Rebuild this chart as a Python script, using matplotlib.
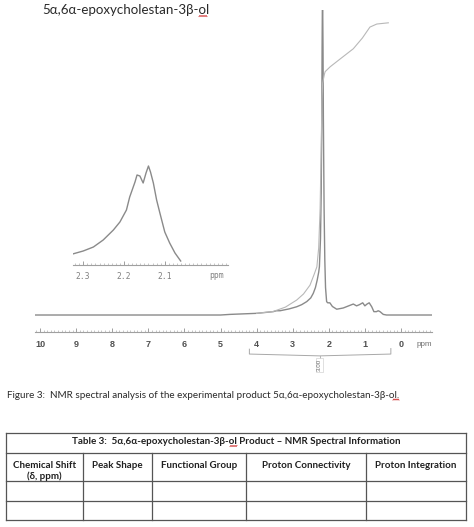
import numpy as np
import matplotlib
matplotlib.use("Agg")
import matplotlib.pyplot as plt
from matplotlib.ticker import MultipleLocator

# ---- 1H NMR trace (chemical shift in ppm, relative intensity, tallest peak = 100)
spec_ppm = [10.14, 5.0, 4.74, 4.0, 3.54, 3.45, 3.35, 3.1, 2.89, 2.75, 2.61, 2.50,
            2.43, 2.37, 2.32, 2.28, 2.26, 2.23, 2.21, 2.195, 2.185, 2.178, 2.168,
            2.16, 2.15, 2.13, 2.11, 2.09, 2.06, 2.03, 1.97, 1.90, 1.78, 1.60, 1.45,
            1.32, 1.23, 1.15, 1.06, 1.00, 0.94, 0.88, 0.81, 0.75, 0.68, 0.63, 0.58,
            0.49, 0.40, -0.86]
spec_int = [0, 0, 0.2, 0.55, 1.1, 1.4, 1.4, 2.0, 2.7, 3.4, 4.4, 5.6,
            7.1, 9.0, 11.5, 14.0, 15.8, 25, 40, 62, 88, 100, 100,
            88, 65, 35, 18, 9, 4.4, 4.0, 4.0, 2.8, 1.9, 2.3, 3.0,
            3.6, 3.0, 3.4, 4.0, 3.0, 3.6, 4.0, 2.7, 1.1, 1.1, 1.4, 1.1,
            0.2, 0, 0]

# ---- integral trace
integ_ppm = [4.0, 3.54, 3.2, 2.89, 2.70, 2.52, 2.40, 2.33, 2.28, 2.24, 2.21, 2.19,
             2.17, 2.12, 2.10, 1.96, 1.69, 1.32, 1.07, 0.86, 0.67, 0.35]
integ_int = [0.55, 1.15, 2.6, 4.9, 6.9, 9.8, 13.5, 15.8, 22, 35, 55, 70,
             76, 79, 79.8, 81.4, 83.9, 87.3, 90.8, 94.4, 95.4, 95.8]

# ---- expanded view of the 2.1-2.3 ppm region
inset_ppm = [2.326, 2.300, 2.275, 2.251, 2.226, 2.210, 2.194, 2.186, 2.173, 2.168,
             2.161, 2.153, 2.146, 2.140, 2.135, 2.128, 2.120, 2.112, 2.100, 2.088,
             2.075, 2.061]
inset_int = [11, 14, 18, 25, 35, 43, 55, 68, 83, 90,
             89, 82, 92, 99, 93, 82, 65, 52, 33, 22,
             12, 4]

main_ticks = [10, 9, 8, 7, 6, 5, 4, 3, 2, 1, 0]
inset_ticks = [2.3, 2.2, 2.1]
integration_value = "3.00"

title = "5\u03b1,6\u03b1-epoxycholestan-3\u03b2-ol"
caption = "Figure 3:  NMR spectral analysis of the experimental product 5\u03b1,6\u03b1-epoxycholestan-3\u03b2-ol."
table_title = "Table 3:  5\u03b1,6\u03b1-epoxycholestan-3\u03b2-ol Product \u2013 NMR Spectral Information"
table_headers = ["Chemical Shift\n(\u03b4, ppm)", "Peak Shape", "Functional Group",
                 "Proton Connectivity", "Proton Integration"]

W, H = 474, 527
TEXT_FONT = ["Lato", "Open Sans", "DejaVu Sans"]
SCALE_FONT = ["Liberation Sans", "DejaVu Sans"]


def fx(px):
    return px / W


def fy(py):
    return 1 - py / H


fig = plt.figure(figsize=(W / 100, H / 100), dpi=100)
fig.patch.set_facecolor("white")

# overlay in pixel units for the page text and the table grid
page = fig.add_axes([0, 0, 1, 1], zorder=0)
page.set_xlim(0, W)
page.set_ylim(H, 0)
page.axis("off")

# ---- main spectrum
ax = fig.add_axes([fx(35), fy(332), fx(432) - fx(35), fy(10) - fy(332)], zorder=1)
ax.patch.set_alpha(0)
ax.plot(spec_ppm, spec_int, color="#8a8a8a", lw=1.0)
ax.plot(integ_ppm, integ_int, color="#b8b8b8", lw=0.8)
ax.set_xlim(10.14, -0.86)
ax.set_ylim(-5.57, 100)
for s in ("left", "right", "top"):
    ax.spines[s].set_visible(False)
ax.spines["bottom"].set_color("#a0a0a0")
ax.spines["bottom"].set_linewidth(0.8)
ax.set_yticks([])
ax.set_xticks(main_ticks, labels=[str(t) for t in main_ticks],
              fontweight="bold", family=SCALE_FONT)
ax.xaxis.set_minor_locator(MultipleLocator(0.1))
ax.tick_params(axis="x", which="major", direction="in", length=3, width=0.7,
               color="#a0a0a0", labelsize=6.5, labelcolor="#505050", pad=5.5)
ax.tick_params(axis="x", which="minor", direction="in", length=1.5, width=0.5,
               color="#b0b0b0")
fig.text(fx(424), fy(345), "ppm", fontsize=5.8, color="#707070",
         family=SCALE_FONT, ha="center", va="center")

# integration bracket under the scale
bx = [4.2, 4.2, 2.25, 0.28, 0.28]
by = [-11.2, -12.8, -13.4, -12.8, -11.0]
ax.plot(bx, by, color="#a8a8a8", lw=0.7, clip_on=False)
ax.plot([2.25, 2.25], [-13.4, -14.2], color="#a8a8a8", lw=0.6, clip_on=False)
ax.text(2.25, -16.5, integration_value, rotation=90, fontsize=4.5, color="#707070",
        ha="center", va="center", family=SCALE_FONT,
        bbox=dict(boxstyle="square,pad=0.15", fc="white", ec="#c8c8c8", lw=0.4))

# ---- expanded region
ins = fig.add_axes([fx(73), fy(265), fx(228) - fx(73), fy(160) - fy(265)], zorder=1)
ins.patch.set_alpha(0)
ins.plot(inset_ppm, inset_int, color="#8a8a8a", lw=1.0)
ins.set_xlim(2.325, 1.945)
ins.set_ylim(0, 105)
for s in ("left", "right", "top"):
    ins.spines[s].set_visible(False)
ins.spines["bottom"].set_color("#a0a0a0")
ins.spines["bottom"].set_linewidth(0.8)
ins.set_yticks([])
ins.set_xticks(inset_ticks, labels=[f"{t:.1f}" for t in inset_ticks],
               family="DejaVu Sans Mono")
ins.xaxis.set_minor_locator(MultipleLocator(0.01))
ins.tick_params(axis="x", which="major", direction="in", length=3, width=0.7,
                color="#a0a0a0", labelsize=5.8, labelcolor="#808080", pad=5)
ins.tick_params(axis="x", which="minor", direction="in", length=1.5, width=0.5,
                color="#b0b0b0")
fig.text(fx(217), fy(275), "ppm", fontsize=5.8, color="#808080",
         family="DejaVu Sans Mono", ha="center", va="center")

# ---- page text
page.text(42, 10, title, fontsize=9.6, color="#2a2a2a", family=TEXT_FONT,
          ha="left", va="center")
page.text(7, 395, caption, fontsize=7.1, color="#2a2a2a", family=TEXT_FONT,
          ha="left", va="center")


def squiggle(x0, x1, y):
    """Red spell-check wave under a word."""
    xs = np.arange(x0, x1 + 0.01, 1.0)
    ys = y + 0.6 * (-1) ** np.arange(len(xs))
    page.plot(xs, ys, color="#d03030", lw=0.6)


squiggle(199, 207, 16)
squiggle(393, 399, 399.5)
squiggle(230, 237, 446)

# ---- table grid
tl, tr = 6, 466
rows = [433, 453, 481, 501, 520]
cols = [6, 83, 152, 246, 366, 466]
gc = "#555555"
for y in rows:
    page.plot([tl, tr], [y, y], color=gc, lw=0.9)
page.plot([tl, tl], [rows[0], rows[-1]], color=gc, lw=0.9)
page.plot([tr, tr], [rows[0], rows[-1]], color=gc, lw=0.9)
for x in cols[1:-1]:
    page.plot([x, x], [rows[1], rows[-1]], color=gc, lw=0.9)

page.text((tl + tr) / 2, 441, table_title, fontsize=7.15, fontweight="bold",
          color="#202020", family=TEXT_FONT, ha="center", va="center")
for i, h in enumerate(table_headers):
    cx = (cols[i] + cols[i + 1]) / 2
    page.text(cx, 461, h, fontsize=7, fontweight="bold", color="#202020",
              family=TEXT_FONT, ha="center", va="top", linespacing=1.25)

fig.savefig("out.png", dpi=100, facecolor="white")
